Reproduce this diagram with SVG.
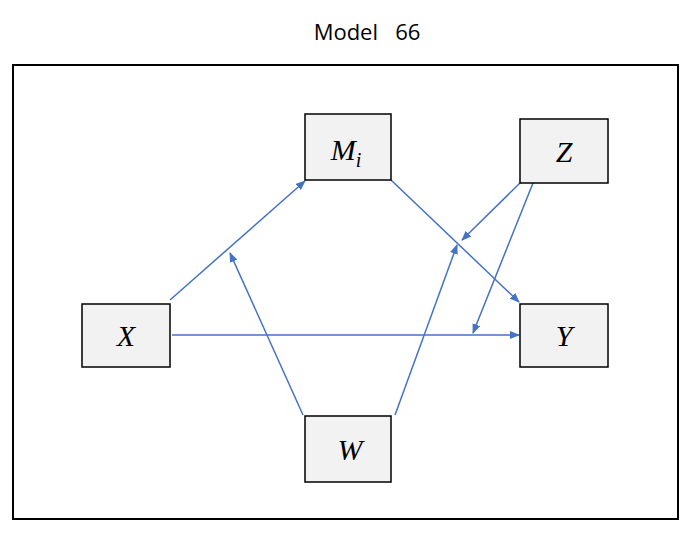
<svg xmlns="http://www.w3.org/2000/svg" width="689" height="535" viewBox="0 0 689 535">
<style>
.box{fill:#f2f2f2;stroke:#000;stroke-width:1.5}
.lbl{font-family:"Liberation Serif",serif;font-style:italic;font-size:30px;text-anchor:middle}
.c{stroke:#4472c4;stroke-width:1.5;fill:none;marker-end:url(#a)}
</style>
<defs><marker id="a" markerWidth="10" markerHeight="8" refX="9" refY="4" orient="auto" markerUnits="userSpaceOnUse"><path d="M0,0L10,4L0,8z" fill="#4472c4"/></marker></defs>
<rect width="689" height="535" fill="#fff"/>
<text x="367" y="40" font-family="'Open Sans','Noto Sans',sans-serif" font-size="22" text-anchor="middle" xml:space="preserve">Model   66</text>
<rect x="13" y="65" width="665" height="454" fill="none" stroke="#000" stroke-width="2"/>
<g id="connectors">
<line class="c" x1="170" y1="300" x2="305" y2="181"/>
<line class="c" x1="172" y1="335" x2="519" y2="335"/>
<line class="c" x1="391" y1="180" x2="519" y2="302"/>
<line class="c" x1="520" y1="183" x2="462" y2="240"/>
<line class="c" x1="533" y1="183" x2="473" y2="333"/>
<line class="c" x1="303" y1="415" x2="230" y2="253"/>
<line class="c" x1="395" y1="415" x2="457" y2="245"/>
</g>
<g id="M"><rect class="box" x="305" y="114" width="86" height="66"/><text class="lbl" x="346" y="160">M<tspan font-size="20" dy="7">i</tspan></text></g>
<g id="Z"><rect class="box" x="520" y="119" width="88" height="64"/><text class="lbl" x="564" y="162">Z</text></g>
<g id="X"><rect class="box" x="82" y="304" width="88" height="63"/><text class="lbl" x="126" y="346">X</text></g>
<g id="Y"><rect class="box" x="520" y="304" width="88" height="63"/><text class="lbl" x="564" y="346">Y</text></g>
<g id="W"><rect class="box" x="305" y="416" width="86" height="66"/><text class="lbl" x="350" y="460">W</text></g>
</svg>
